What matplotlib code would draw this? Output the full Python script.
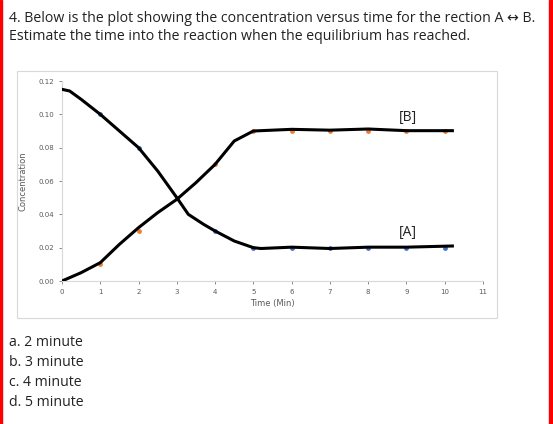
import matplotlib
matplotlib.use("Agg")
import matplotlib.pyplot as plt
from matplotlib.patches import Rectangle

time_pts = [1, 2, 3, 4, 5, 6, 7, 8, 9, 10]
conc_A = [0.10, 0.08, 0.05, 0.03, 0.02, 0.02, 0.02, 0.02, 0.02, 0.02]
conc_B = [0.01, 0.03, 0.05, 0.07, 0.09, 0.09, 0.09, 0.09, 0.09, 0.09]
curve_A_x = [0, 0.2, 0.5, 1, 1.5, 2, 2.5, 3, 3.3, 3.7, 4, 4.5, 5, 5.2, 6, 7, 8, 9, 10.2]
curve_A_y = [0.115, 0.114, 0.109, 0.100, 0.090, 0.080, 0.066, 0.050, 0.040, 0.034, 0.030, 0.024, 0.020, 0.0195, 0.0203, 0.0195, 0.0203, 0.0203, 0.021]
curve_B_x = [0, 0.5, 1, 1.5, 2, 2.5, 3, 3.5, 4, 4.5, 5, 6, 7, 8, 9, 10.2]
curve_B_y = [0, 0.005, 0.011, 0.022, 0.032, 0.041, 0.049, 0.059, 0.070, 0.084, 0.090, 0.091, 0.0905, 0.0912, 0.0902, 0.0902]

FAM = ['Open Sans', 'DejaVu Sans']
fig = plt.figure(figsize=(5.53, 4.24), dpi=100)
fig.patches.append(Rectangle((0, 0), 0.004, 1, transform=fig.transFigure, color='red'))
fig.patches.append(Rectangle((0.993, 0), 0.007, 1, transform=fig.transFigure, color='red'))
fig.patches.append(Rectangle((17/553, 1-318/424), 480/553, 247/424, transform=fig.transFigure,
                             fill=False, edgecolor='#d9d9d9', lw=0.8))
fig.text(9/553, 1-18/424, "4. Below is the plot showing the concentration versus time for the rection A \u2194 B.",
         fontsize=10.2, family=FAM, color='#222222', va='center')
fig.text(9/553, 1-37/424, "Estimate the time into the reaction when the equilibrium has reached.",
         fontsize=10.2, family=FAM, color='#222222', va='center')
for i, t in enumerate(["a. 2 minute", "b. 3 minute", "c. 4 minute", "d. 5 minute"]):
    fig.text(9/553, 1-(343+20*i)/424, t, fontsize=10.2, family=FAM, color='#222222', va='center')

ax = fig.add_axes([62/553, 1-281/424, 421/553, 200/424])
ax.plot(curve_A_x, curve_A_y, color='black', lw=2.2, zorder=3)
ax.plot(curve_B_x, curve_B_y, color='black', lw=2.2, zorder=3)
ax.scatter(time_pts, conc_A, color='#4472c4', s=6, zorder=2)
ax.scatter(time_pts, conc_B, color='#ed7d31', s=6, zorder=2)
ax.set_xlim(0, 11)
ax.set_ylim(0, 0.12)
ax.set_xticks(range(0, 12))
ax.set_yticks([0, 0.02, 0.04, 0.06, 0.08, 0.10, 0.12])
ax.set_yticklabels(["0.00", "0.02", "0.04", "0.06", "0.08", "0.10", "0.12"])
ax.tick_params(labelsize=5, colors='#595959', length=2, width=0.5)
for s in ['top', 'right']:
    ax.spines[s].set_visible(False)
for s in ['left', 'bottom']:
    ax.spines[s].set_color('#d9d9d9')
ax.set_xlabel("Time (Min)", fontsize=6, color='#595959', labelpad=3)
ax.set_ylabel("Concentration", fontsize=6, color='#595959', labelpad=8)
ax.text(8.8, 0.096, "[B]", fontsize=10, family=FAM, color='#222222')
ax.text(8.8, 0.027, "[A]", fontsize=10, family=FAM, color='#222222')
fig.savefig("out.png", dpi=100)
